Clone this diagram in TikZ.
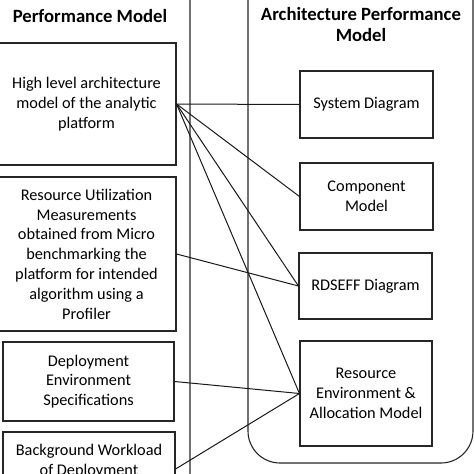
\documentclass[tikz,border=0pt]{standalone}
\usepackage{fontspec}
\setmainfont{Carlito}
\usepackage{tikz}
\usetikzlibrary{positioning, calc}

\begin{document}
\begin{tikzpicture}[x=1pt, y=-1pt,
  font=\fontsize{16.3}{19.8}\selectfont,
  box/.style={draw=black!85, line width=1.1pt, align=center, inner sep=0pt},
  panel/.style={draw=black!85, line width=1.1pt, rounded corners=32pt},
  title/.style={font=\fontsize{18.7}{21}\selectfont\bfseries, align=center},
  link/.style={draw=black!90, line width=1pt}]
\useasboundingbox (0,0) rectangle (474,474);
\clip (0,0) rectangle (474,474);
% two panels, cut off by the picture frame
\draw[panel] (-200,-200) rectangle (190,700);
\draw[panel] (248,-200) rectangle (473,463);
\node[title] (ptitle) at (90,16) {Performance Model};
\node[title] (atitle) at (361,24.5) {Architecture Performance\\Model};
% inputs
\node[box, minimum width=179, minimum height=122] (hl) at (86.5,104)
  {High level architecture\\model of the analytic\\platform};
\node[box, minimum width=179, minimum height=154] (ru) at (86.5,254)
  {Resource Utilization\\Measurements\\obtained from Micro\\benchmarking the\\platform for intended\\algorithm using a\\Profiler};
\node[box, minimum width=171, minimum height=79] (de) at (88.5,381.5)
  {Deployment\\Environment\\Specifications};
\node[box, minimum width=172, minimum height=74] (bw) at (89,469)
  {};
\node[align=center] (bwtext) at (89,461) {Background Workload\\of Deployment};
% model parts
\node[box, minimum width=133, minimum height=67] (sys) at (366.5,104.5) {System Diagram};
\node[box, minimum width=133, minimum height=67] (comp) at (366.5,196.5) {Component\\Model};
\node[box, minimum width=133, minimum height=66] (rds) at (365.5,286) {RDSEFF Diagram};
\node[box, minimum width=132, minimum height=105] (res) at (366,393.5)
  {Resource\\Environment \&\\Allocation Model};
% links
\draw[link] (hl.east) -- (sys.west);
\draw[link] (hl.east) -- (comp.west);
\draw[link] (hl.east) -- (rds.west);
\draw[link] (hl.east) -- (res.west);
\draw[link] (ru.east) -- (rds.west);
\draw[link] (de.east) -- (res.west);
\draw[link] (bw.east) -- (res.west);
\end{tikzpicture}
\end{document}
